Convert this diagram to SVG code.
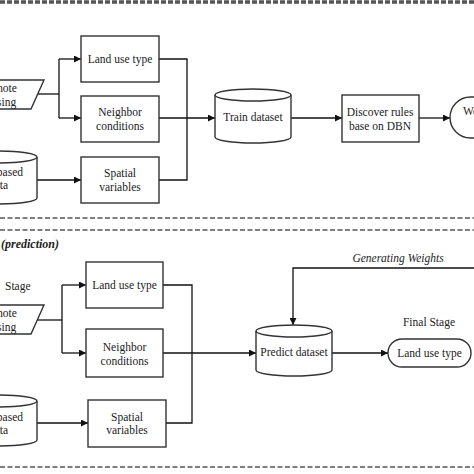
<svg xmlns="http://www.w3.org/2000/svg" width="474" height="474" viewBox="0 0 474 474">
<style>
text{font-family:"Liberation Serif","Times New Roman",serif;font-size:11.5px;fill:#222;text-anchor:middle}
.box{fill:#fff;stroke:#333;stroke-width:1.4}
.ln{fill:none;stroke:#111;stroke-width:1.3}
.dash{stroke:#555;stroke-width:1.5;stroke-dasharray:5 2.5;fill:none}
</style>
<defs>
<marker id="ah" viewBox="0 0 10 10" refX="10" refY="5" markerWidth="7" markerHeight="7" markerUnits="userSpaceOnUse" orient="auto">
<path d="M0,0 L10,5 L0,10 z" fill="#111"/>
</marker>
</defs>
<rect width="474" height="474" fill="#fff"/>
<g id="separators">
<line x1="0" y1="2" x2="474" y2="2" style="stroke:#555;stroke-width:3.5;stroke-dasharray:5 2;fill:none"/>
<line class="dash" x1="0" y1="218" x2="474" y2="218"/>
<line class="dash" x1="0" y1="230" x2="474" y2="230"/>
<line class="dash" x1="0" y1="467" x2="474" y2="467"/>
</g>
<g id="labels">
<text x="1" y="248" style="text-anchor:start;font-weight:bold;font-style:italic;font-size:12px">(prediction)</text>
<text x="5" y="290" style="text-anchor:start">Stage</text>
<text x="398" y="262" style="font-style:italic">Generating Weights</text>
<text x="429" y="326">Final Stage</text>
</g>
<g id="connectors">
<path class="ln" d="M37.5,94 H59"/>
<path class="ln" d="M59,59 V118"/>
<path class="ln" d="M59,59 H81" marker-end="url(#ah)"/>
<path class="ln" d="M59,118 H81" marker-end="url(#ah)"/>
<path class="ln" d="M37,180 H81" marker-end="url(#ah)"/>
<path class="ln" d="M159,59 H187 V180 H159"/>
<path class="ln" d="M159,118 H215" marker-end="url(#ah)"/>
<path class="ln" d="M291,118 H342" marker-end="url(#ah)"/>
<path class="ln" d="M419,118 H450" marker-end="url(#ah)"/>
<path class="ln" d="M37.5,320 H62"/>
<path class="ln" d="M62,285 V353"/>
<path class="ln" d="M62,285 H86" marker-end="url(#ah)"/>
<path class="ln" d="M62,353 H86" marker-end="url(#ah)"/>
<path class="ln" d="M37,423 H88" marker-end="url(#ah)"/>
<path class="ln" d="M163,285 H192 V423 H166"/>
<path class="ln" d="M163,353 H256" marker-end="url(#ah)"/>
<path class="ln" d="M332,353 H388" marker-end="url(#ah)"/>
<path class="ln" d="M476,268 H293 V325" marker-end="url(#ah)"/>
</g>
<g id="remote1">
<path class="box" d="M-50,80 H44 L31,109 H-63 Z"/>
<text x="-1" y="92">Remote</text>
<text x="-1" y="106">sensing</text>
</g>
<g id="gisdata1">
<path class="box" d="M-40,157 A38.5,6 0 0 1 37,157 V198 A38.5,6 0 0 1 -40,198 Z"/>
<path class="box" style="fill:none" d="M-40,157 A38.5,6 0 0 0 37,157"/>
<text x="23" y="176" style="text-anchor:end">based</text>
<text x="8" y="189" style="text-anchor:end">data</text>
</g>
<g id="landuse1">
<rect class="box" x="81" y="36" width="78" height="46"/>
<text x="120" y="63">Land use type</text>
</g>
<g id="neighbor1">
<rect class="box" x="81" y="96" width="78" height="46"/>
<text x="120" y="116">Neighbor</text>
<text x="120" y="130">conditions</text>
</g>
<g id="spatial1">
<rect class="box" x="81" y="157" width="78" height="46"/>
<text x="120" y="177">Spatial</text>
<text x="120" y="191">variables</text>
</g>
<g id="train">
<path class="box" d="M215,95 A38,6 0 0 1 291,95 V137 A38,6 0 0 1 215,137 Z"/>
<path class="box" style="fill:none" d="M215,95 A38,6 0 0 0 291,95"/>
<text x="253" y="121">Train dataset</text>
</g>
<g id="discover">
<rect class="box" x="342" y="95" width="77" height="47"/>
<text x="380" y="116">Discover rules</text>
<text x="380" y="130">base on DBN</text>
</g>
<g id="weights">
<rect class="box" x="450" y="97" width="80" height="41" rx="20.5"/>
<text x="463" y="115" style="text-anchor:start">Weights</text>
</g>
<g id="remote2">
<path class="box" d="M-50,305 H44 L31,334 H-63 Z"/>
<text x="-1" y="317">Remote</text>
<text x="-1" y="331">sensing</text>
</g>
<g id="gisdata2">
<path class="box" d="M-40,401 A38.5,6 0 0 1 37,401 V440 A38.5,6 0 0 1 -40,440 Z"/>
<path class="box" style="fill:none" d="M-40,401 A38.5,6 0 0 0 37,401"/>
<text x="23" y="421" style="text-anchor:end">based</text>
<text x="8" y="434" style="text-anchor:end">data</text>
</g>
<g id="landuse2">
<rect class="box" x="86" y="262" width="77" height="46"/>
<text x="124.5" y="289">Land use type</text>
</g>
<g id="neighbor2">
<rect class="box" x="86" y="329" width="77" height="48"/>
<text x="124.5" y="351">Neighbor</text>
<text x="124.5" y="365">conditions</text>
</g>
<g id="spatial2">
<rect class="box" x="88" y="400" width="78" height="47"/>
<text x="127" y="421">Spatial</text>
<text x="127" y="434">variables</text>
</g>
<g id="predict">
<path class="box" d="M256,331 A38,6 0 0 1 332,331 V370 A38,6 0 0 1 256,370 Z"/>
<path class="box" style="fill:none" d="M256,331 A38,6 0 0 0 332,331"/>
<text x="294" y="356">Predict dataset</text>
</g>
<g id="final">
<rect class="box" x="388" y="339" width="83" height="28" rx="14"/>
<text x="429.5" y="357">Land use type</text>
</g>
</svg>
